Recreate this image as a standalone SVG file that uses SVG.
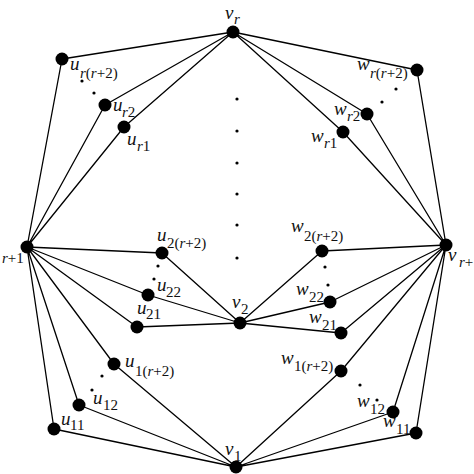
<svg xmlns="http://www.w3.org/2000/svg" width="474" height="474" viewBox="0 0 474 474">
<style>
.e{stroke:#000;stroke-width:1.3;fill:none}
.n{fill:#000}
.d{fill:#000}
text{font-family:"Liberation Serif","Times New Roman",serif;fill:#111}
.m{font-size:19px;font-style:italic}
.s{font-size:15px;font-style:normal}
.i{font-style:italic}
</style>
<rect width="474" height="474" fill="#fff"/>
<g id="connectors" class="e">
<path d="M233 32L62 59M233 32L105 105M233 32L124 127M62 59L27 247M105 105L27 247M124 127L27 247"/>
<path d="M233 32L417 70M233 32L367 114M233 32L343 132M417 70L446 245M367 114L446 245M343 132L446 245"/>
<path d="M27 247L162 253M27 247L148 295M27 247L137 327M162 253L240 323M148 295L240 323M137 327L240 323"/>
<path d="M446 245L322 251M446 245L330 302M446 245L341 333M322 251L240 323M330 302L240 323M341 333L240 323"/>
<path d="M27 247L114 364M27 247L79 405M27 247L54 429M114 364L236 467M79 405L236 467M54 429L236 467"/>
<path d="M446 245L341 371M446 245L393 412M446 245L416 433M341 371L236 467M393 412L236 467M416 433L236 467"/>
</g>
<g id="dots" class="d">
<circle cx="237" cy="99" r="1.6"/><circle cx="237" cy="131" r="1.6"/><circle cx="237" cy="163" r="1.6"/><circle cx="237" cy="194" r="1.6"/><circle cx="237" cy="225" r="1.6"/><circle cx="237" cy="258" r="1.6"/>
<circle cx="82" cy="81" r="1.6"/><circle cx="94" cy="93" r="1.6"/>
<circle cx="396" cy="89" r="1.6"/><circle cx="382" cy="102" r="1.6"/>
<circle cx="158" cy="266" r="1.6"/><circle cx="154" cy="279" r="1.6"/>
<circle cx="325" cy="267" r="1.6"/><circle cx="328" cy="285" r="1.6"/>
<circle cx="102" cy="376" r="1.6"/><circle cx="92" cy="390" r="1.6"/>
<circle cx="360" cy="385" r="1.6"/><circle cx="377" cy="400" r="1.6"/>
</g>
<g id="v_r"><circle class="n" cx="233" cy="32" r="6.5"/><text class="m" x="225" y="19">v<tspan class="s" x="234" y="24"><tspan class="i">r</tspan></tspan></text></g>
<g id="v_r1_left"><circle class="n" cx="27" cy="247" r="6.5"/><text class="m" x="-9" y="256">v<tspan class="s" x="2" y="263"><tspan class="i">r</tspan>+1</tspan></text></g>
<g id="v_r1_right"><circle class="n" cx="446" cy="245" r="6.5"/><text class="m" x="448" y="261">v<tspan class="s" x="459" y="267"><tspan class="i">r</tspan>+1</tspan></text></g>
<g id="v_2"><circle class="n" cx="240" cy="323" r="6.5"/><text class="m" x="232" y="308">v<tspan class="s" x="241" y="314">2</tspan></text></g>
<g id="v_1"><circle class="n" cx="236" cy="467" r="6.5"/><text class="m" x="225" y="455">v<tspan class="s" x="234" y="461">1</tspan></text></g>
<g id="u_rr2"><circle class="n" cx="62" cy="59" r="6.5"/><text class="m" x="70" y="70">u<tspan class="s" x="80" y="78"><tspan class="i">r</tspan>(<tspan class="i">r</tspan>+2)</tspan></text></g>
<g id="u_r2"><circle class="n" cx="105" cy="105" r="6.5"/><text class="m" x="113" y="111">u<tspan class="s" x="122" y="117"><tspan class="i">r</tspan>2</tspan></text></g>
<g id="u_r1"><circle class="n" cx="124" cy="127" r="6.5"/><text class="m" x="127" y="145">u<tspan class="s" x="137" y="151"><tspan class="i">r</tspan>1</tspan></text></g>
<g id="w_rr2"><circle class="n" cx="417" cy="70" r="6.5"/><text class="m" x="357" y="70">w<tspan class="s" x="370" y="78"><tspan class="i">r</tspan>(<tspan class="i">r</tspan>+2)</tspan></text></g>
<g id="w_r2"><circle class="n" cx="367" cy="114" r="6.5"/><text class="m" x="334" y="115">w<tspan class="s" x="347" y="121"><tspan class="i">r</tspan>2</tspan></text></g>
<g id="w_r1"><circle class="n" cx="343" cy="132" r="6.5"/><text class="m" x="311" y="142">w<tspan class="s" x="324" y="148"><tspan class="i">r</tspan>1</tspan></text></g>
<g id="u_2r2"><circle class="n" cx="162" cy="253" r="6.5"/><text class="m" x="157" y="241">u<tspan class="s" x="167" y="248">2(<tspan class="i">r</tspan>+2)</tspan></text></g>
<g id="u_22"><circle class="n" cx="148" cy="295" r="6.5"/><text class="m" x="157" y="291">u<tspan class="s" x="166" y="297">22</tspan></text></g>
<g id="u_21"><circle class="n" cx="137" cy="327" r="6.5"/><text class="m" x="137" y="314">u<tspan class="s" x="146" y="319">21</tspan></text></g>
<g id="w_2r2"><circle class="n" cx="322" cy="251" r="6.5"/><text class="m" x="291" y="232">w<tspan class="s" x="304" y="241">2(<tspan class="i">r</tspan>+2)</tspan></text></g>
<g id="w_22"><circle class="n" cx="330" cy="302" r="6.5"/><text class="m" x="296" y="295">w<tspan class="s" x="309" y="302">22</tspan></text></g>
<g id="w_21"><circle class="n" cx="341" cy="333" r="6.5"/><text class="m" x="309" y="323">w<tspan class="s" x="322" y="330">21</tspan></text></g>
<g id="u_1r2"><circle class="n" cx="114" cy="364" r="6.5"/><text class="m" x="125" y="367">u<tspan class="s" x="135" y="376">1(<tspan class="i">r</tspan>+2)</tspan></text></g>
<g id="u_12"><circle class="n" cx="79" cy="405" r="6.5"/><text class="m" x="93" y="404">u<tspan class="s" x="103" y="410">12</tspan></text></g>
<g id="u_11"><circle class="n" cx="54" cy="429" r="6.5"/><text class="m" x="61" y="425">u<tspan class="s" x="70" y="430">11</tspan></text></g>
<g id="w_1r2"><circle class="n" cx="341" cy="371" r="6.5"/><text class="m" x="281" y="364">w<tspan class="s" x="294" y="371">1(<tspan class="i">r</tspan>+2)</tspan></text></g>
<g id="w_12"><circle class="n" cx="393" cy="412" r="6.5"/><text class="m" x="357" y="407">w<tspan class="s" x="370" y="414">12</tspan></text></g>
<g id="w_11"><circle class="n" cx="416" cy="433" r="6.5"/><text class="m" x="383" y="427">w<tspan class="s" x="396" y="434">11</tspan></text></g>
</svg>
